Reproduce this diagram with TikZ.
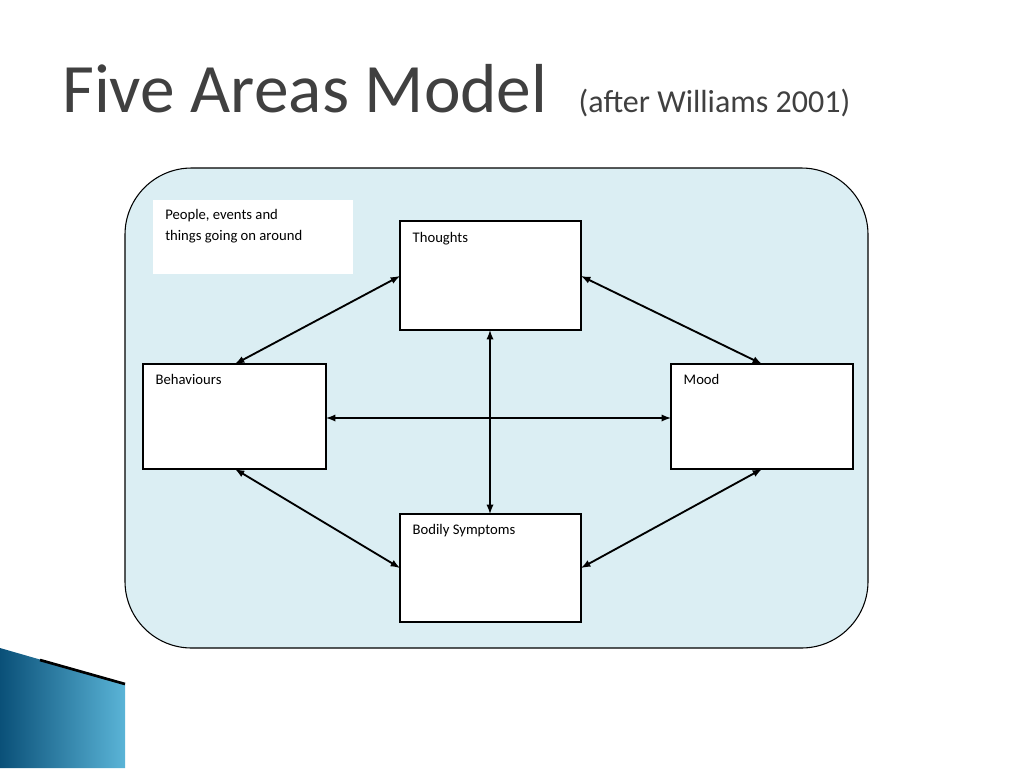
\documentclass[tikz,border=0pt]{standalone}
\usepackage{fontspec}
\setmainfont{Carlito}
\begin{document}
\begin{tikzpicture}[x=0.75pt,y=-0.75pt,
 box/.style={draw=black,fill=white,line width=0.9pt},
 lab/.style={anchor=north west,font=\fontsize{11}{16}\selectfont,align=left},
 arr/.style={<->,>=latex,line width=1.4pt}]
\useasboundingbox (0,0) rectangle (1024,768);
\fill[white] (0,0) rectangle (1024,768);
\node[anchor=base west,text=black!75,inner sep=0pt] (title) at (62,112) {\fontsize{52}{60}\selectfont Five Areas Model\ \ \fontsize{24}{28}\selectfont(after Williams 2001)};
\draw[fill={rgb,255:red,219;green,238;blue,243},line width=0.8pt,rounded corners=50] (125,168) rectangle (868,648);
\fill[white] (153,200) rectangle (353,274);
\node[lab,inner sep=0pt] (env) at (165,209) {People, events and\\things going on around};
\draw[box] (400,221) rectangle (581,330); \coordinate (T) at (490,275);
\draw[box] (143,364) rectangle (326,469);
\draw[box] (671,364) rectangle (853,469);
\draw[box] (400,514) rectangle (581,622);
\node[lab] (th) at (408,228) {Thoughts};
\node[lab] (be) at (151,370) {Behaviours};
\node[lab] (mo) at (679,370) {Mood};
\node[lab] (bo) at (408,520) {Bodily Symptoms};
\coordinate (tl) at (400,276); \coordinate (tr) at (581,276);
\coordinate (tb) at (490,330); \coordinate (bt) at (490,514);
\coordinate (bl) at (400,568); \coordinate (br) at (581,568);
\coordinate (beT) at (235,364); \coordinate (beB) at (235,469); \coordinate (beR) at (326,418);
\coordinate (moT) at (762,364); \coordinate (moB) at (762,469); \coordinate (moL) at (671,418);
\draw[arr] (tl) -- (beT);
\draw[arr] (tr) -- (moT);
\draw[arr] (beB) -- (bl);
\draw[arr] (br) -- (moB);
\draw[arr] (tb) -- (bt);
\draw[arr] (beR) -- (moL);
\shade[left color={rgb,255:red,10;green,80;blue,120},right color={rgb,255:red,90;green,180;blue,215}] (0,648) -- (125,684) -- (125,768) -- (0,768) -- cycle;
\draw[black,line width=2pt] (40,660) -- (125,684);
\end{tikzpicture}
\end{document}
